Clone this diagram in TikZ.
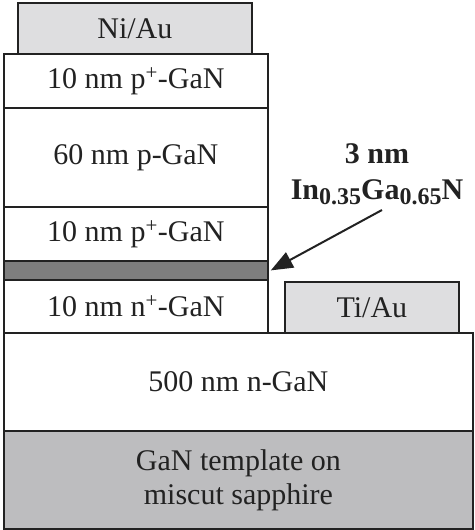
\documentclass[tikz,border=0pt]{standalone}
\usepackage{fontspec}
\setmainfont{Liberation Serif}
\usetikzlibrary{arrows.meta}
\definecolor{metal}{HTML}{DEDEE0}
\definecolor{dark}{HTML}{7E7E7E}
\definecolor{sub}{HTML}{BDBDBF}
\definecolor{ink}{HTML}{222222}
\newcommand{\lowsub}[1]{\raisebox{-5pt}{\fontsize{24}{26}\selectfont #1}}
\begin{document}
\begin{tikzpicture}[x=1pt,y=-1pt,
  layer/.style={draw=ink, line width=1.8pt, inner sep=0pt, anchor=north west,
    font=\fontsize{30}{34}\selectfont, text=ink, align=center},
  lbl/.style={font=\fontsize{30}{36}\selectfont\bfseries, text=ink, align=center, inner sep=0pt}]
\useasboundingbox (0,0) rectangle (474,530);
\node[layer, fill=metal, minimum width=234pt, minimum height=51pt] (niau) at (17,2) {Ni/Au};
\node[layer, fill=white, minimum width=264pt, minimum height=54pt] (pp1) at (3,53) {10 nm p\textsuperscript{+}-GaN};
\node[layer, fill=white, minimum width=264pt, minimum height=99pt] (pgan) at (3,107) {60 nm p-GaN};
\node[layer, fill=white, minimum width=264pt, minimum height=54pt] (pp2) at (3,206) {10 nm p\textsuperscript{+}-GaN};
\node[layer, fill=dark, minimum width=264pt, minimum height=19pt] (ingan) at (3,260) {};
\node[layer, fill=white, minimum width=264pt, minimum height=53pt] (np) at (3,279) {10 nm n\textsuperscript{+}-GaN};
\node[layer, fill=metal, minimum width=174pt, minimum height=51pt] (tiau) at (284,281) {Ti/Au};
\node[layer, fill=white, minimum width=469pt, minimum height=98pt] (ngan) at (3,332) {500 nm n-GaN};
\node[layer, fill=sub, minimum width=469pt, minimum height=98pt] (tmpl) at (3,430) {GaN template on\\miscut sapphire};
\node[lbl] (label) at (377,174) {3 nm\\In\lowsub{0.35}Ga\lowsub{0.65}N};
\coordinate (arrstart) at (382,210);
\draw[ink, line width=2pt, -{Triangle[length=22pt,width=17pt]}] (arrstart) -- ([xshift=2pt]ingan.east);
\end{tikzpicture}
\end{document}
